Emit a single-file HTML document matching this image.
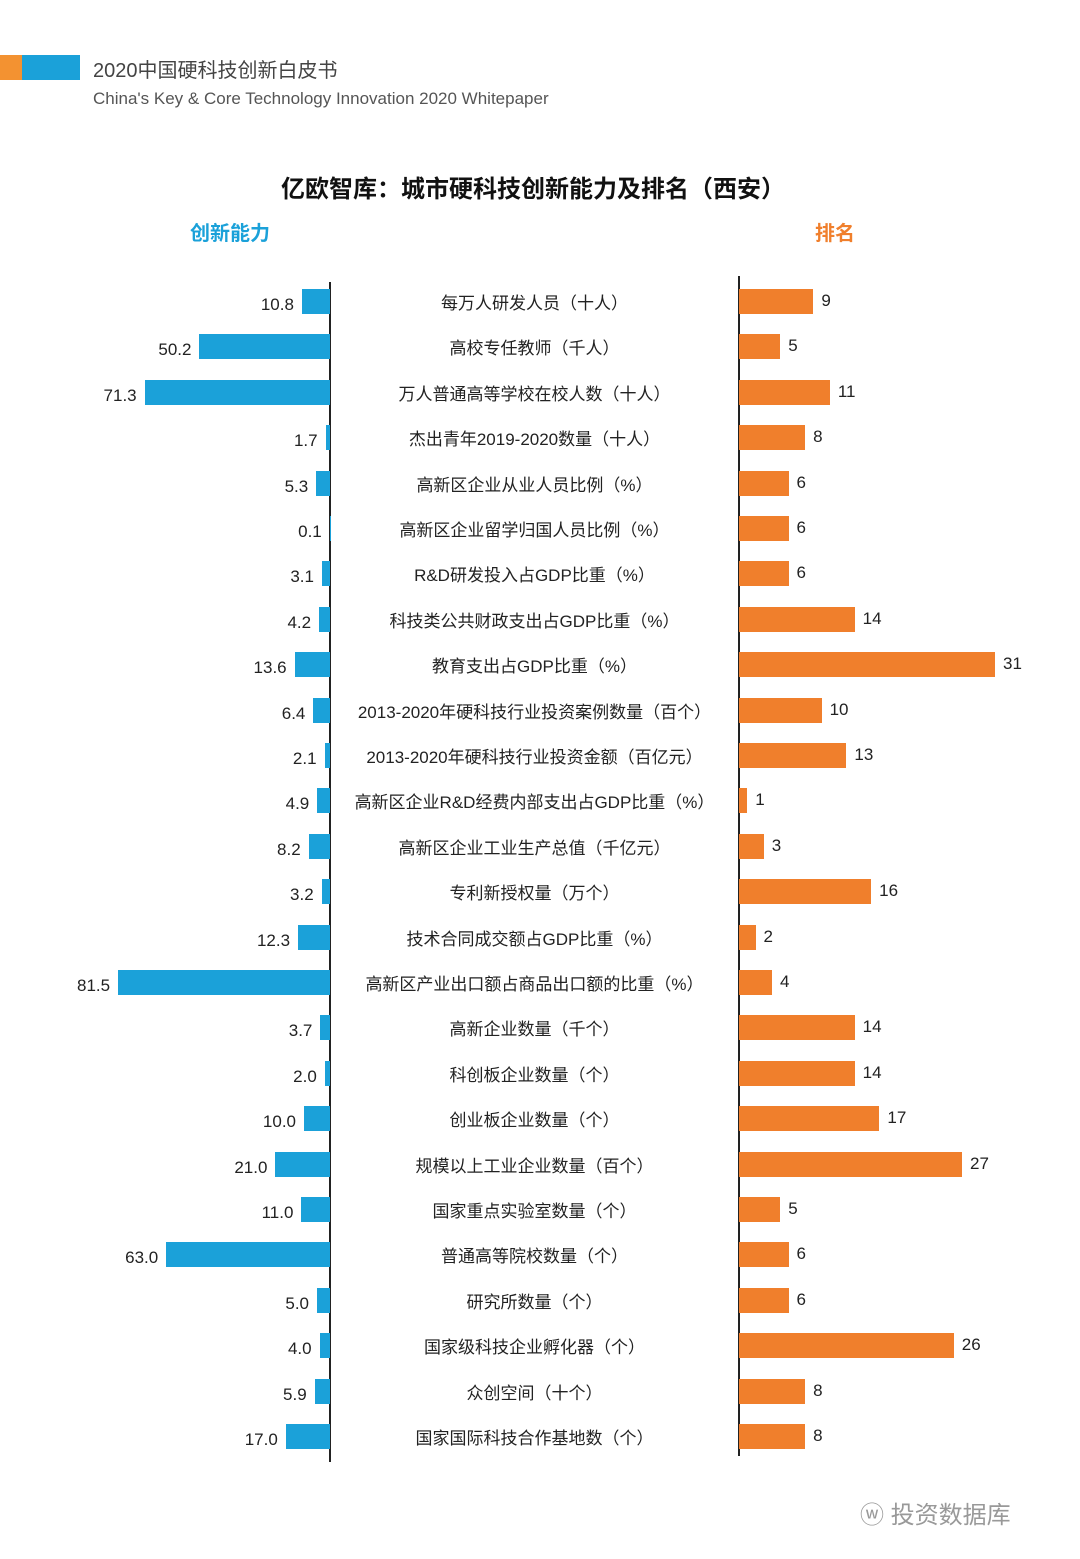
<!DOCTYPE html>
<html><head><meta charset="utf-8">
<style>
body{margin:0;width:1080px;height:1559px;background:#fff;position:relative;overflow:hidden;font-family:"Liberation Sans","Noto Sans CJK SC",sans-serif;}
.a{position:absolute;white-space:nowrap;}
.lb{position:absolute;background:#1ba1d9;height:25px;}
.rb{position:absolute;background:#f07f2c;height:25px;}
.v{position:absolute;font-size:17px;color:#222;line-height:20px;}
.c{position:absolute;left:330px;width:409px;text-align:center;font-size:17px;color:#222;line-height:20px;}
</style></head><body>
<div class="a" style="left:0;top:55px;width:22px;height:25px;background:#f39231"></div>
<div class="a" style="left:22px;top:55px;width:58px;height:25px;background:#1ba1d9"></div>
<div class="a" style="left:93px;top:54px;font-size:20px;color:#444;">2020中国硬科技创新白皮书</div>
<div class="a" style="left:93px;top:89px;font-size:17px;color:#555;">China's Key &amp; Core Technology Innovation 2020 Whitepaper</div>
<div class="a" style="left:0;width:1066px;text-align:center;top:169px;font-size:24px;font-weight:bold;color:#111;">亿欧智库：城市硬科技创新能力及排名（西安）</div>
<div class="a" style="left:190px;top:217px;font-size:20px;font-weight:bold;color:#1ba1d9;">创新能力</div>
<div class="a" style="left:815px;top:217px;font-size:20px;font-weight:bold;color:#f07f2c;">排名</div>
<div class="a" style="left:329px;top:282px;width:2px;height:1180px;background:#222"></div>
<div class="a" style="left:738px;top:276px;width:2px;height:1180px;background:#222"></div>
<div id="rows"></div>
<div class="a" style="left:860px;top:1495px;font-size:24px;color:#999;">ⓦ 投资数据库</div>
<script>
var d=[["每万人研发人员（十人）","10.8",10.8,9],["高校专任教师（千人）","50.2",50.2,5],["万人普通高等学校在校人数（十人）","71.3",71.3,11],["杰出青年2019-2020数量（十人）","1.7",1.7,8],["高新区企业从业人员比例（%）","5.3",5.3,6],["高新区企业留学归国人员比例（%）","0.1",0.1,6],["R&amp;D研发投入占GDP比重（%）","3.1",3.1,6],["科技类公共财政支出占GDP比重（%）","4.2",4.2,14],["教育支出占GDP比重（%）","13.6",13.6,31],["2013-2020年硬科技行业投资案例数量（百个）","6.4",6.4,10],["2013-2020年硬科技行业投资金额（百亿元）","2.1",2.1,13],["高新区企业R&amp;D经费内部支出占GDP比重（%）","4.9",4.9,1],["高新区企业工业生产总值（千亿元）","8.2",8.2,3],["专利新授权量（万个）","3.2",3.2,16],["技术合同成交额占GDP比重（%）","12.3",12.3,2],["高新区产业出口额占商品出口额的比重（%）","81.5",81.5,4],["高新企业数量（千个）","3.7",3.7,14],["科创板企业数量（个）","2.0",2.0,14],["创业板企业数量（个）","10.0",10.0,17],["规模以上工业企业数量（百个）","21.0",21.0,27],["国家重点实验室数量（个）","11.0",11.0,5],["普通高等院校数量（个）","63.0",63.0,6],["研究所数量（个）","5.0",5.0,6],["国家级科技企业孵化器（个）","4.0",4.0,26],["众创空间（十个）","5.9",5.9,8],["国家国际科技合作基地数（个）","17.0",17.0,8]];
var h="";
d.forEach(function(r,i){var cy=301+i*45.4;var w=r[2]*2.6;var rw=r[3]*8.26;
h+='<div class="lb" style="left:'+(330-w)+'px;top:'+(cy-12)+'px;width:'+w+'px"></div>';
h+='<div class="v" style="right:'+(1080-(330-w)+8)+'px;top:'+(cy-6)+'px">'+r[1]+'</div>';
h+='<div class="c" style="top:'+(cy-7)+'px">'+r[0]+'</div>';
h+='<div class="rb" style="left:739px;top:'+(cy-12)+'px;width:'+rw+'px"></div>';
h+='<div class="v" style="left:'+(739+rw+8)+'px;top:'+(cy-10)+'px">'+r[3]+'</div>';});
document.getElementById("rows").innerHTML=h;
</script>
</body></html>
